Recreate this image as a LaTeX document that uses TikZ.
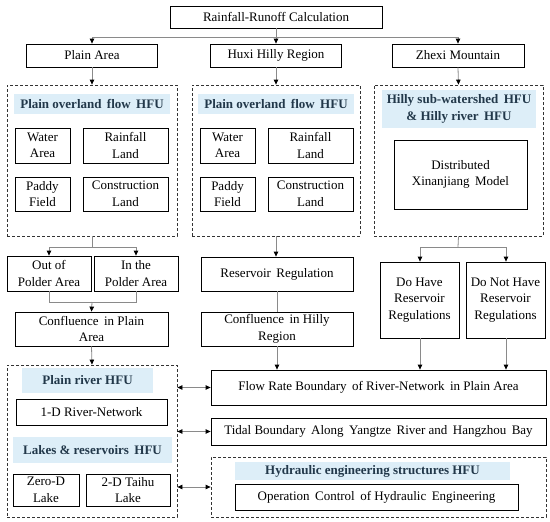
\documentclass[tikz,border=0pt]{standalone}
\usepackage{fontspec}
\setmainfont{Liberation Serif}
\usetikzlibrary{arrows.meta}
\definecolor{bandc}{HTML}{DDEEF8}
\definecolor{headc}{HTML}{22384A}
\definecolor{linec}{HTML}{8A8A8A}
\tikzset{
  bx/.style={draw=black, line width=0.8pt, fill=white, inner sep=1pt, align=center, font=\fontsize{13}{16.5}\selectfont},
  dbox/.style={draw=black!80, line width=0.8pt, dash pattern=on 3pt off 2pt},
  band/.style={fill=bandc, inner sep=0pt, align=center, text=headc, font=\fontsize{13}{16.5}\selectfont\bfseries},
  conn/.style={draw=linec, line width=0.8pt},
  arr/.style={conn, -{Triangle[color=black,length=5pt,width=4.5pt]}},
  darr/.style={conn, {Triangle[color=black,length=5pt,width=4.5pt]}-{Triangle[color=black,length=5pt,width=4.5pt]}}
}
\begin{document}
\begin{tikzpicture}[x=1pt,y=-1pt]
\useasboundingbox[fill=white] (0,0) rectangle (550,522);
% top level
\node[bx, minimum width=212pt, minimum height=22pt] (top) at (276,17) {Rainfall-Runoff Calculation};
\node[bx, minimum width=131pt, minimum height=23pt] (plain) at (92,55.5) {Plain Area};
\node[bx, minimum width=131pt, minimum height=23pt] (huxi) at (276,55.5) {Huxi Hilly Region};
\node[bx, minimum width=132pt, minimum height=23pt] (zhexi) at (458,55.5) {Zhexi Mountain};
% dashed HFU boxes
\node[dbox, minimum width=170pt, minimum height=151pt] (dashL) at (92,160.5) {};
\node[dbox, minimum width=168pt, minimum height=151pt] (dashM) at (276,160.5) {};
\node[dbox, minimum width=169pt, minimum height=151pt] (dashR) at (458.5,160.5) {};
\node[band, minimum width=156pt, minimum height=20pt] (bandL) at (92,104) {Plain overland\, flow\, HFU};
\node[band, minimum width=156pt, minimum height=20pt] (bandM) at (276,104) {Plain overland\, flow\, HFU};
\node[band, minimum width=154pt, minimum height=38pt] (bandR) at (459,109) {Hilly sub-watershed\, HFU\\\& Hilly river\, HFU};
% left inner
\node[bx, minimum width=55pt, minimum height=35pt] (waterL) at (42.5,145.5) {Water\\Area};
\node[bx, minimum width=85pt, minimum height=35pt] (rainL) at (125.5,145.5) {Rainfall\\Land};
\node[bx, minimum width=55pt, minimum height=34pt] (paddyL) at (42.5,194) {Paddy\\Field};
\node[bx, minimum width=85pt, minimum height=34pt] (consL) at (125.5,194) {Construction\\Land};
% middle inner
\node[bx, minimum width=55pt, minimum height=35pt] (waterM) at (227.5,145.5) {Water\\Area};
\node[bx, minimum width=85pt, minimum height=35pt] (rainM) at (310.5,145.5) {Rainfall\\Land};
\node[bx, minimum width=55pt, minimum height=34pt] (paddyM) at (227.5,194) {Paddy\\Field};
\node[bx, minimum width=85pt, minimum height=34pt] (consM) at (310.5,194) {Construction\\Land};
% right inner
\node[bx, minimum width=133pt, minimum height=69pt] (xin) at (460.5,174.5) {Distributed\\Xinanjiang\, Model};
% lower left
\node[bx, minimum width=84pt, minimum height=35pt] (outp) at (49,273.5) {Out of\\Polder Area};
\node[bx, minimum width=84pt, minimum height=35pt] (inp) at (136,273.5) {In the\\Polder Area};
\node[bx, minimum width=153pt, minimum height=34pt] (confp) at (91.5,329) {Confluence\, in Plain\\Area};
\node[dbox, minimum width=170pt, minimum height=152pt] (dashBL) at (92,441) {};
\node[band, minimum width=131pt, minimum height=25pt] (bandPR) at (87.5,380.5) {Plain river HFU};
\node[bx, minimum width=151pt, minimum height=26pt] (river) at (91.5,412) {1-D River-Network};
\node[band, minimum width=159pt, minimum height=26pt] (bandLR) at (92.5,450) {Lakes \& reservoirs\, HFU};
\node[bx, minimum width=66pt, minimum height=32pt] (zerod) at (46,490) {Zero-D\\Lake};
\node[bx, minimum width=84pt, minimum height=32pt] (taihu) at (128,490) {2-D Taihu\\Lake};
% lower middle
\node[bx, minimum width=152pt, minimum height=34pt] (resreg) at (277,274) {Reservoir\, Regulation};
\node[bx, minimum width=152pt, minimum height=34pt] (confh) at (277,329) {Confluence\, in Hilly\\Region};
% lower right
\node[bx, minimum width=79pt, minimum height=76pt] (dohave) at (419.5,300) {Do Have\\Reservoir\\Regulations};
\node[bx, minimum width=79pt, minimum height=76pt] (donot) at (505.5,300) {Do Not Have\\Reservoir\\Regulations};
\node[bx, minimum width=335pt, minimum height=35pt] (flow) at (378.5,387.5) {Flow Rate Boundary\, of River-Network\, in Plain Area};
\node[bx, minimum width=335pt, minimum height=27pt] (tidal) at (378.5,431.5) {Tidal Boundary\, Along\, Yangtze\, River and\, Hangzhou\, Bay};
\node[dbox, minimum width=335pt, minimum height=60pt] (dashH) at (378.5,487) {};
\node[band, minimum width=275pt, minimum height=18pt] (bandH) at (372.5,471) {Hydraulic engineering structures HFU};
\node[bx, minimum width=283pt, minimum height=26pt] (opc) at (376.5,497) {Operation\, Control\, of Hydraulic\, Engineering};
% coordinates
\coordinate (j0) at (276,37);
\coordinate (jL) at (92,37);
\coordinate (jR) at (458,37);
\coordinate (k0) at (92,247);
\coordinate (kL) at (49,247);
\coordinate (kR) at (136,247);
\coordinate (m0) at (92,302);
\coordinate (mL) at (49,302);
\coordinate (mR) at (136,302);
\coordinate (r0) at (458,247);
\coordinate (rL) at (420,247);
\coordinate (rR) at (506,247);
% connectors
\draw[conn] (jL) -- (jR);
\draw[arr] (top.south) -- (huxi.north);
\draw[arr] (jL) -- (plain.north);
\draw[arr] (jR) -- (zhexi.north);
\draw[arr] (plain.south) -- (dashL.north);
\draw[arr] (huxi.south) -- (dashM.north);
\draw[arr] (zhexi.south) -- (dashR.north);
\draw[conn] (dashL.south) -- (k0);
\draw[conn] (kL) -- (kR);
\draw[arr] (kL) -- (outp.north);
\draw[arr] (kR) -- (inp.north);
\draw[conn] (outp.south) -- (mL) -- (mR) -- (inp.south);
\draw[arr] (m0) -- (confp.north);
\draw[arr] (confp.south) -- (dashBL.north);
\draw[arr] (dashM.south) -- (dashM.south |- resreg.north);
\draw[conn] (resreg.south) -- (confh.north);
\draw[arr] (confh.south) -- (confh.south |- flow.north);
\draw[conn] (dashR.south) -- (r0);
\draw[conn] (rL) -- (rR);
\draw[arr] (rL) -- (rL |- dohave.north);
\draw[arr] (rR) -- (rR |- donot.north);
\draw[arr] (rL |- dohave.south) -- (rL |- flow.north);
\draw[arr] (rR |- donot.south) -- (rR |- flow.north);
\draw[darr] (dashBL.east |- flow.west) -- (flow.west);
\draw[darr] (dashBL.east |- tidal.west) -- (tidal.west);
\draw[darr] (dashBL.east |- dashH.west) -- (dashH.west);
\end{tikzpicture}
\end{document}
